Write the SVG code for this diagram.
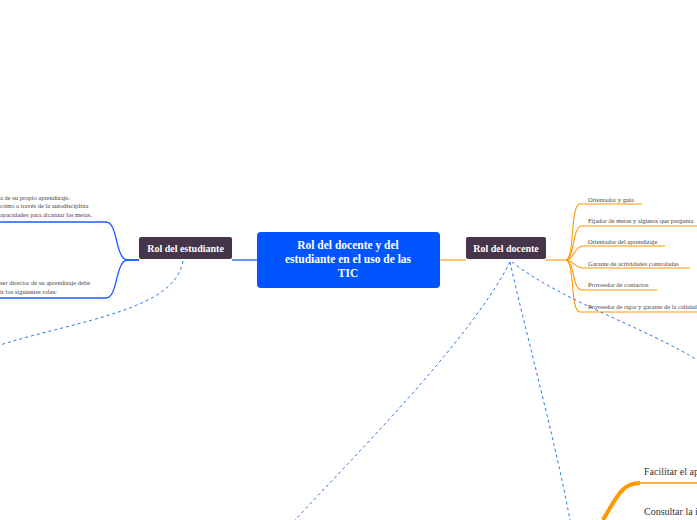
<svg xmlns="http://www.w3.org/2000/svg" width="697" height="520" viewBox="0 0 697 520">
<style>
.s{font-family:"Liberation Serif",serif;font-size:6.5px;fill:#444}
.m{font-family:"Liberation Serif",serif;font-size:10px;fill:#333}
.b{fill:none;stroke:#1a5cff;stroke-width:1.3}
.o{fill:none;stroke:#ff9900;stroke-width:1.1}
.d{fill:none;stroke:#2b78e4;stroke-width:1;stroke-dasharray:3 3}
.n{font-family:"Liberation Serif",serif;font-weight:bold;fill:#fff;text-anchor:middle}
</style>
<rect width="697" height="520" fill="#fff"/>
<g id="connectors">
<path class="b" d="M232 260H257"/>
<path class="o" d="M440 260H466"/>
<path class="b" d="M139 260H127C115 258 118 222 106 222H0"/>
<path class="b" d="M139 260H127C115 262 118 298 106 298H0"/>
<path class="d" d="M183 261C175 310 80 320 0 345"/>
<path class="o" d="M546 260H566"/>
<path class="o" d="M566 260C575 258 570 204 580 204H642"/>
<path class="o" d="M566 260C575 258 572 226 582 226H697"/>
<path class="o" d="M566 260C575 259 574 246 584 246H665"/>
<path class="o" d="M566 260C575 261 574 268 584 268H690"/>
<path class="o" d="M566 260C575 262 572 290 582 290H657"/>
<path class="o" d="M566 260C575 262 570 312 580 312H697"/>
<path class="d" d="M510 262C470 340 360 450 295 520"/>
<path class="d" d="M510 262C530 350 555 440 570 520"/>
<path class="d" d="M512 262C560 300 650 330 697 360"/>
<path fill="none" stroke="#ff9900" stroke-width="4" d="M603 520C620 490 625 483 640 483"/>
<path fill="none" stroke="#ff9900" stroke-width="1.3" d="M640 483H697"/>
</g>
<g id="central">
<rect x="257" y="232" width="183" height="56" rx="4" fill="#0055ff"/>
<text class="n" font-size="11.5"><tspan x="348" y="249">Rol del docente y del</tspan><tspan x="348" y="263">estudiante en el uso de las</tspan><tspan x="348" y="277">TIC</tspan></text>
</g>
<g id="estudiante">
<rect x="139" y="237" width="93" height="22" rx="2" fill="#45344a"/>
<text class="n" x="185.5" y="252" font-size="10">Rol del estudiante</text>
</g>
<g id="docente">
<rect x="466" y="237" width="80" height="22" rx="2" fill="#45344a"/>
<text class="n" x="506" y="252" font-size="10">Rol del docente</text>
</g>
<g id="est-texts">
<text class="s"><tspan x="0" y="200">a de su propio aprendizaje.</tspan><tspan x="0" y="208">cómo a través de la autodisciplina</tspan><tspan x="0" y="217">apacidades para alcanzar las metas.</tspan></text>
<text class="s"><tspan x="0" y="285">ser director de su aprendizaje debe</tspan><tspan x="0" y="294">ir los siguientes roles:</tspan></text>
</g>
<g id="doc-texts">
<text class="s" x="588" y="202">Orientador y guía</text>
<text class="s" x="588" y="223">Fijador de metas y algunos que pregunta</text>
<text class="s" x="588" y="244">Orientador del aprendizaje</text>
<text class="s" x="588" y="266">Garante de actividades controladas</text>
<text class="s" x="588" y="287">Proveedor de contactos</text>
<text class="s" x="588" y="309">Proveedor de rigor y garante de la calidad</text>
<text class="m" x="644" y="475">Facilitar el ap</text>
<text class="m" x="644" y="515">Consultar la i</text>
</g>
</svg>
